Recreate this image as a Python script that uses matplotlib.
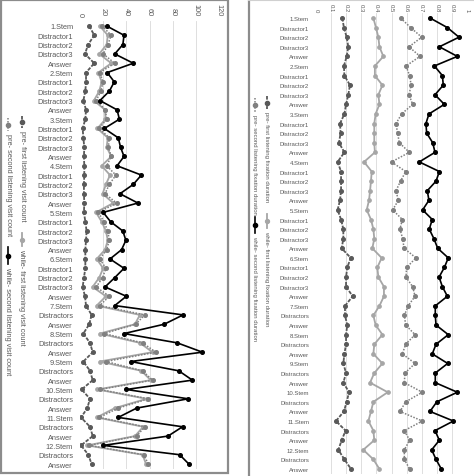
import matplotlib
matplotlib.use('Agg')
import matplotlib.pyplot as plt
from matplotlib.lines import Line2D
from matplotlib.patches import Rectangle

plt.rcParams['font.family'] = ['Liberation Sans', 'DejaVu Sans']

W = 474
H = 477

# category labels (same for both panels)
categories = []
for q in range(1, 7):
    categories += [str(q) + '.Stem', 'Distractor1', 'Distractor2', 'Distractor3', 'Answer']
for q in range(7, 13):
    categories += [str(q) + '.Stem', 'Distractors', 'Answer']

# left panel - visit counts
pre_first_visit = [8, 12.3, 7, 4.3, 12.3, 5.2, 5.2, 4.6, 2.9, 5.2, 4.6, 2.3, 2.9, 3.7, 3.4,
                   3.7, 3.7, 3.4, 3.4, 3.7, 3.4, 4.6, 5.7, 5.2, 4.6, 4.6, 4.6, 3.4, 2.3, 4.3,
                   5.2, 10, 8, 2.9, 8.6, 11, 2.9, 8.6, 11, 1.4, 8.6, 6.3, 0.9, 8.6, 11, 0.9, 7.2, 10]
pre_second_visit = [19, 27, 24, 20, 30, 17, 20, 18, 14, 22, 23, 16.6, 25.3, 24.5, 27,
                    23, 31, 25.3, 21.6, 31.6, 15.8, 20.7, 24, 25.3, 23, 17, 22.4, 19.5, 14, 25.3,
                    17, 56, 48, 20.7, 54, 65.5, 22.4, 54, 62.6, 17, 59, 33, 16.6, 56, 48.9, 8, 55, 59]
while_first_visit = [17, 24, 23, 16.6, 27, 15.8, 18.7, 16.6, 12, 21.6, 22, 15, 24, 23, 27,
                     18.7, 25.9, 22.4, 19.5, 28.7, 13.8, 18.7, 22.4, 24, 21.6, 14.4, 20, 16.6, 10.9, 22.4,
                     14.4, 51.7, 47.4, 17, 51.7, 62.6, 17, 53, 61, 15, 57.5, 30, 14.4, 54.6, 47.4, 6.3, 54, 57]
while_second_visit = [23, 38, 37, 30, 46, 23.5, 29.6, 25.3, 17.2, 32, 34, 21, 33, 35, 38,
                      32, 53, 46, 34.5, 50, 20, 26.4, 37, 39.6, 35.9, 25.9, 38, 30, 21.6, 40,
                      30, 89, 72.7, 38, 84, 105.7, 43.7, 85.3, 97, 40, 93.4, 48.9, 33, 88.5, 76, 20, 86, 94]

# right panel - fixation durations
pre_first_fix = [0.174, 0.185, 0.203, 0.214, 0.203, 0.185, 0.188, 0.225, 0.214, 0.199, 0.188, 0.159,
                 0.163, 0.152, 0.188, 0.143, 0.166, 0.166, 0.166, 0.159, 0.143, 0.166, 0.181, 0.181,
                 0.17, 0.23, 0.207, 0.199, 0.199, 0.243, 0.192, 0.192, 0.207, 0.199, 0.199, 0.188,
                 0.181, 0.199, 0.181, 0.219, 0.203, 0.185, 0.132, 0.196, 0.17, 0.148, 0.188, 0.232]
pre_second_fix = [0.56, 0.627, 0.70, 0.616, 0.689, 0.596, 0.62, 0.63, 0.616, 0.64, 0.567, 0.53,
                  0.54, 0.552, 0.618, 0.50, 0.594, 0.56, 0.53, 0.545, 0.508, 0.572, 0.556, 0.574,
                  0.583, 0.662, 0.60, 0.596, 0.64, 0.656, 0.61, 0.585, 0.594, 0.656, 0.594, 0.572,
                  0.656, 0.589, 0.585, 0.704, 0.594, 0.556, 0.704, 0.585, 0.62, 0.585, 0.585, 0.62]
while_first_fix = [0.38, 0.397, 0.413, 0.42, 0.446, 0.39, 0.39, 0.44, 0.413, 0.42, 0.395, 0.386,
                   0.386, 0.386, 0.39, 0.318, 0.369, 0.364, 0.358, 0.351, 0.336, 0.364, 0.38, 0.386,
                   0.373, 0.435, 0.406, 0.413, 0.45, 0.45, 0.42, 0.38, 0.395, 0.44, 0.386, 0.38,
                   0.44, 0.386, 0.358, 0.475, 0.38, 0.364, 0.347, 0.38, 0.386, 0.313, 0.38, 0.42]
while_second_fix = [0.755, 0.87, 0.947, 0.817, 0.936, 0.784, 0.837, 0.843, 0.788, 0.85, 0.748, 0.728,
                    0.733, 0.773, 0.788, 0.684, 0.817, 0.795, 0.737, 0.748, 0.706, 0.77, 0.75, 0.781,
                    0.806, 0.876, 0.85, 0.815, 0.837, 0.87, 0.79, 0.79, 0.795, 0.876, 0.795, 0.77,
                    0.872, 0.79, 0.79, 0.936, 0.80, 0.755, 0.91, 0.788, 0.817, 0.766, 0.795, 0.83]

left_ticks = [0, 20, 40, 60, 80, 100, 120]
left_ticklabels = ['0', '20', '40', '60', '80', '100', '120']
right_ticks = [0, 0.1, 0.2, 0.3, 0.4, 0.5, 0.6, 0.7, 0.8, 0.9, 1.0]
right_ticklabels = ['0', '0.1', '0.2', '0.3', '0.4', '0.5', '0.6', '0.7', '0.8', '0.9', '1']

left_legend = ['pre- first listening visit count', 'while- first listening visit count',
               'pre- second listening visit count', 'while- second listening visit count']
right_legend = ['pre- first listening fixation duration', 'while- first listening fixation duration',
                'pre- second listening fixation duration', 'while- second listening fixation duration']

txtcol = '#595959'
gridcol = '#d9d9d9'

# styles: pre-first, while-first, pre-second, while-second
styles = [
    dict(color='#595959', lw=1.3, ls=(0, (2, 0.8)), marker='o', ms=2.6),
    dict(color='#a6a6a6', lw=1.3, ls='-', marker='o', ms=2.4),
    dict(color='#808080', lw=1.1, ls=(0, (1, 1)), marker='o', ms=2.6),
    dict(color='black', lw=1.2, ls='-', marker='o', ms=2.6),
]


def fbox(x0, y0, x1, y1):
    # pixel box (top-left origin) to figure rect
    return [x0 / W, 1 - y1 / H, (x1 - x0) / W, (y1 - y0) / H]


def draw_panel(ax, series, ticks, ticklabels, fs, tpad, lpad):
    ypos = list(range(len(categories)))
    for vals, st in zip(series, styles):
        ax.plot(vals, ypos, color=st['color'], lw=st['lw'], ls=st['ls'],
                marker=st['marker'], ms=st['ms'], mec=st['color'], mfc=st['color'])
    ax.set_ylim(len(categories) - 0.5, -0.5)
    ax.set_xlim(ticks[0], ticks[-1])
    for t in ticks[1:]:
        ax.axvline(t, color=gridcol, lw=0.6, zorder=0)
    ax.xaxis.tick_top()
    ax.set_xticks(ticks)
    ax.set_xticklabels(ticklabels, rotation=-90, fontsize=fs, color=txtcol)
    ax.set_yticks(ypos)
    ax.set_yticklabels(categories, fontsize=fs, color=txtcol)
    ax.tick_params(axis='x', length=0, pad=tpad)
    ax.tick_params(axis='y', length=0, pad=lpad)
    for s in ax.spines.values():
        s.set_visible(False)
    ax.set_facecolor('none')


def legend_entry(fig, x, y0, y1, st, text, fs):
    fig.add_artist(Line2D([x / W, x / W], [1 - y0 / H, 1 - y1 / H], transform=fig.transFigure,
                          color=st['color'], lw=st['lw'], ls=st['ls']))
    fig.add_artist(Line2D([x / W], [1 - (y0 + y1) / 2 / H], transform=fig.transFigure,
                          color=st['color'], marker='o', ms=st['ms'] + 0.4, lw=0))
    fig.text(x / W, 1 - (y1 + 2) / H, text, rotation=-90, fontsize=fs, color=txtcol,
             ha='center', va='top')


fig = plt.figure(figsize=(W / 100, H / 100), dpi=100)

# panel frames
fig.add_artist(Rectangle((0.5 / W, 3 / H), 227 / W, (H - 3.5) / H, transform=fig.transFigure,
                         fill=False, ec='#8c8c8c', lw=1.6))
fig.add_artist(Line2D([249 / W, 249 / W], [0, 1], transform=fig.transFigure, color='#8c8c8c', lw=1.6))
fig.add_artist(Line2D([249 / W, 1], [1 - 1 / H, 1 - 1 / H], transform=fig.transFigure, color='#d0d0d0', lw=1.5))

axl = fig.add_axes(fbox(80, 22.3, 219, 469.7))
draw_panel(axl, [pre_first_visit, while_first_visit, pre_second_visit, while_second_visit],
           left_ticks, left_ticklabels, 5.3, 4, 5)

axr = fig.add_axes(fbox(316, 14.2, 467, 474.8))
draw_panel(axr, [pre_first_fix, while_first_fix, pre_second_fix, while_second_fix],
           right_ticks, right_ticklabels, 4.3, 1.5, 5)

# rotated legends
legend_entry(fig, 22, 117, 129, styles[0], left_legend[0], 5.3)
legend_entry(fig, 22, 234, 247, styles[1], left_legend[1], 5.3)
legend_entry(fig, 8, 119, 132, styles[2], left_legend[2], 5.3)
legend_entry(fig, 8, 248, 265, styles[3], left_legend[3], 5.3)

legend_entry(fig, 267, 97, 110, styles[0], right_legend[0], 4.3)
legend_entry(fig, 267, 215, 229, styles[1], right_legend[1], 4.3)
legend_entry(fig, 255, 99, 113, styles[2], right_legend[2], 4.3)
legend_entry(fig, 255, 218, 234, styles[3], right_legend[3], 4.3)

fig.savefig('out.png', dpi=100)
